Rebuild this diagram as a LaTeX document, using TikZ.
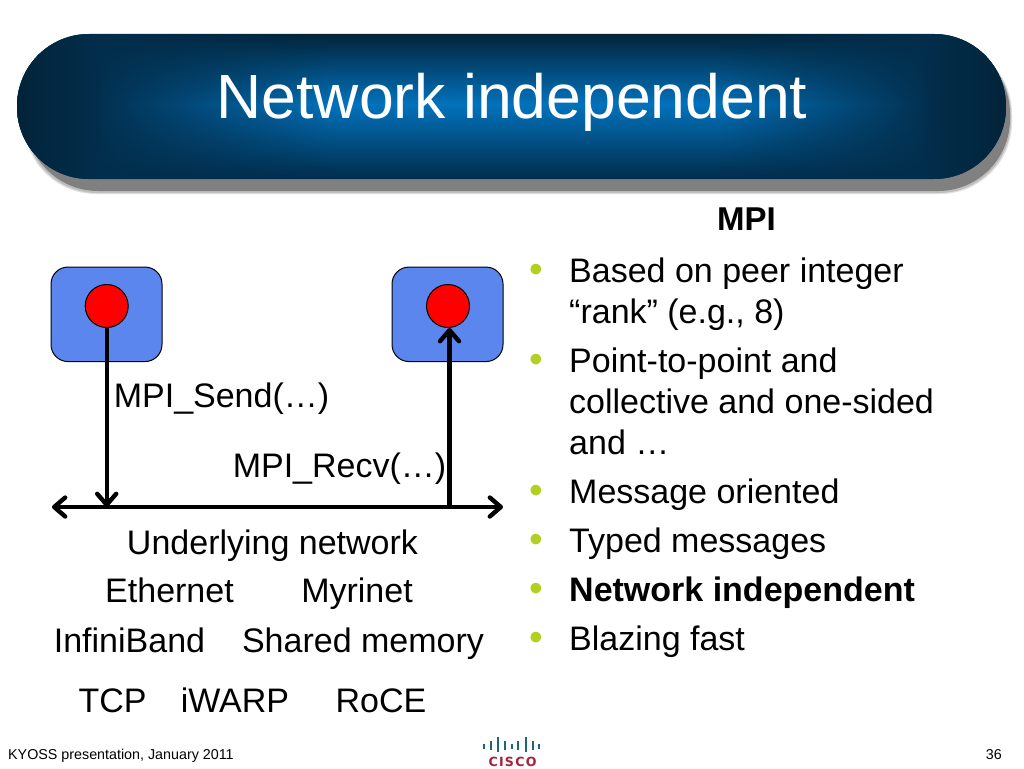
\documentclass[tikz,border=0pt]{standalone}
\usepackage{fontspec}
\setmainfont{Liberation Sans}
\newfontfamily\logofont[LetterSpace=10]{DejaVu Sans}
\usetikzlibrary{fadings,arrows.meta}
\definecolor{bardark}{HTML}{02243A}
\definecolor{barmid}{HTML}{0272BC}
\definecolor{barlow}{HTML}{012C4A}
\definecolor{barside}{HTML}{032E4C}
\definecolor{boxblue}{HTML}{5B86EE}
\definecolor{bulletgold}{HTML}{B4CE22}
\definecolor{ciscoteal}{HTML}{1F6478}
\definecolor{ciscored}{HTML}{A3223F}
\tikzfading[name=fadeleft,left color=transparent!0,right color=transparent!100]
\tikzfading[name=faderight,left color=transparent!100,right color=transparent!0]
\tikzset{
  lbl/.style={font=\fontsize{34}{34}\selectfont,text=black,inner sep=0pt,anchor=base},
  body/.style={font=\fontsize{34}{34}\selectfont,text=black,inner sep=0pt,anchor=base west},
  bul/.style={font=\fontsize{39}{39}\selectfont,text=bulletgold,inner sep=0pt,anchor=base west},
  foot/.style={font=\fontsize{14.3}{15}\selectfont,text=black,inner sep=0pt,anchor=base},
  pbox/.style={draw=black,line width=1pt,fill=boxblue,rounded corners=17pt,minimum width=111pt,minimum height=94.5pt,inner sep=0pt},
  dot/.style={circle,draw=black,line width=1pt,fill=red,minimum size=43pt,inner sep=0pt},
  barbtip/.tip={Straight Barb[round,length=11pt,width=19pt,line width=4.4pt]},
  conn/.style={line width=4.4pt,-barbtip},
  conn2/.style={line width=4.4pt,barbtip-barbtip}
}
\begin{document}
\begin{tikzpicture}[x=1pt,y=-1pt]
\useasboundingbox (0,0) rectangle (1024,768);
\fill[white] (0,0) rectangle (1024,768);
% title bar shadow
\fill[black!12,rounded corners=72pt] (24,42) rectangle (1012,194);
\fill[black!25,rounded corners=72pt] (25,42) rectangle (1011,193);
\fill[black!50,rounded corners=72pt] (26,42) rectangle (1010,191);
% title bar
\begin{scope}
\clip[rounded corners=72pt] (17,34) rectangle (1006,179);
\shade[top color=bardark,bottom color=barmid] (17,34) rectangle (1006,105);
\shade[top color=barmid,bottom color=barlow] (17,104) rectangle (1006,179);
\fill[barside] (17,34) rectangle (90,179);
\fill[barside,path fading=fadeleft] (90,34) rectangle (330,179);
\fill[barside] (934,34) rectangle (1006,179);
\fill[barside,path fading=faderight] (720,34) rectangle (934,179);
\fill[bardark,path fading=fadeleft] (17,34) rectangle (100,179);
\fill[bardark,path fading=faderight] (924,34) rectangle (1006,179);
\end{scope}
\node[font=\fontsize{62.5}{62.5}\selectfont,text=white,inner sep=0pt,anchor=base] (title) at (512,118) {Network independent};
% diagram
\node[pbox] (boxa) at (106.5,314.3) {};
\node[pbox] (boxb) at (447.5,314.3) {};
\node[dot] (dota) at (106.7,306) {};
\node[dot] (dotb) at (448,306) {};
\coordinate (netl) at (52,507);
\coordinate (netr) at (503,507);
\coordinate (neta) at (106.7,507);
\coordinate (netb) at (449.5,507);
\draw[conn2] (netl) -- (netr);
\draw[conn] (dota.south) -- (neta);
\draw[conn] (netb) -- (dotb.south -| netb);
\node[lbl] (send) at (221.5,407) {MPI\_Send(…)};
\node[lbl] (recv) at (339.5,477) {MPI\_Recv(…)};
\node[lbl] (under) at (272.5,554) {Underlying network};
\node[lbl] (eth) at (169.5,602) {Ethernet};
\node[lbl] (myr) at (357,602) {Myrinet};
\node[lbl] (ib) at (129.5,652) {InfiniBand};
\node[lbl] (shm) at (363,652) {Shared memory};
\node[lbl] (tcp) at (112.5,712) {TCP};
\node[lbl] (iwarp) at (235,712) {iWARP};
\node[lbl] (roce) at (381,712) {RoCE};
% right column
\node[font=\bfseries\fontsize{33}{33}\selectfont,inner sep=0pt,anchor=base] (mpi) at (746.5,230) {MPI};
\foreach \n/\y in {b1/282,b2/372,b3/503,b4/552,b5/601,b6/650}{
  \node[bul] (\n) at (529,\y) {•};
}
\node[body] (t1a) at (569,282) {Based on peer integer};
\node[body] (t1b) at (569,323) {“rank” (e.g., 8)};
\node[body] (t2a) at (569,372) {Point-to-point and};
\node[body] (t2b) at (569,413) {collective and one-sided};
\node[body] (t2c) at (569,454) {and …};
\node[body] (t3) at (569,503) {Message oriented};
\node[body] (t4) at (569,552) {Typed messages};
\node[body,font=\bfseries\fontsize{34}{34}\selectfont] (t5) at (569,601) {Network independent};
\node[body] (t6) at (569,650) {Blazing fast};
% footer
\node[foot,anchor=base west] (fl) at (8,759) {KYOSS presentation, January 2011};
\node[foot,anchor=base east] (fr) at (1002,759) {36};
% cisco logo
\foreach \x/\a/\b in {484/744/749,491/741/750,498/737/752,505/741/750,512/744/749,518/741/750,526/737/752,533/741/750,539/744/749}{
  \draw[ciscoteal,line width=2.2pt] (\x,\a) -- (\x,\b);
}
\node[font=\logofont\bfseries\fontsize{12.6}{13}\selectfont,text=ciscored,inner sep=0pt,anchor=base] (cisco) at (512.5,766.5) {CISCO};
\end{tikzpicture}
\end{document}
